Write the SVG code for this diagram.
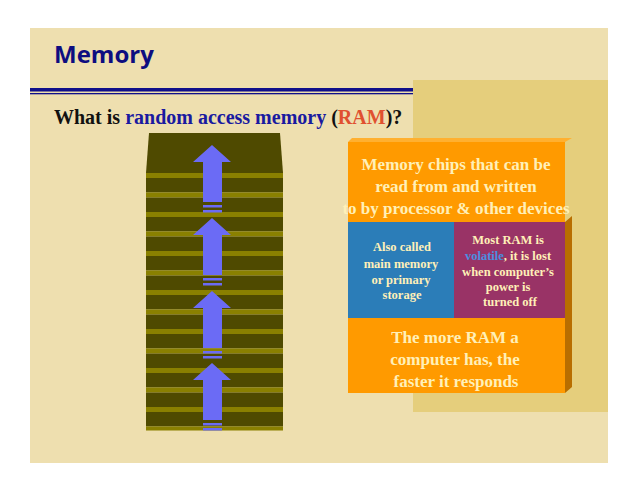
<svg xmlns="http://www.w3.org/2000/svg" width="638" height="493" viewBox="0 0 638 493">
<style>
.chip{fill:#4F4A00}.stripe{fill:#8A8000}.arr{fill:#6B6BF5}
.t{font-family:"Liberation Serif",serif;font-weight:bold;fill:#FFF0B8;text-anchor:middle}
</style>
<rect width="638" height="493" fill="#fff"/>
<rect x="30" y="28" width="578" height="435" fill="#EEDFAF"/>
<rect x="413" y="80" width="195" height="332" fill="#E5CE7C"/>
<text x="54" y="63" font-family="Open Sans,sans-serif" font-weight="bold" font-size="24" fill="#0D0D80">Memory</text>
<rect x="30" y="88" width="383" height="3.5" fill="#10108A"/>
<rect x="30" y="93" width="383" height="1.3" fill="#10108A"/>
<text x="54" y="124" font-family="Liberation Serif,serif" font-weight="bold" font-size="20" fill="#111">What is <tspan fill="#1A1AA0">random access memory</tspan> (<tspan fill="#E05030">RAM</tspan>)?</text>
<g id="stack">
<polygon class="chip" points="149,133 280,133 283,173 146,173"/>
<g id="chips">
<rect class="stripe" x="146" y="173" width="137" height="5"/>
<rect class="chip" x="146" y="178" width="137" height="14.5"/><rect class="stripe" x="146" y="192.5" width="137" height="5"/>
<rect class="chip" x="146" y="197.5" width="137" height="14.5"/><rect class="stripe" x="146" y="212" width="137" height="5"/>
<rect class="chip" x="146" y="217" width="137" height="14.5"/><rect class="stripe" x="146" y="231.5" width="137" height="5"/>
<rect class="chip" x="146" y="236.5" width="137" height="14.5"/><rect class="stripe" x="146" y="251" width="137" height="5"/>
<rect class="chip" x="146" y="256" width="137" height="14.5"/><rect class="stripe" x="146" y="270.5" width="137" height="5"/>
<rect class="chip" x="146" y="275.5" width="137" height="14.5"/><rect class="stripe" x="146" y="290" width="137" height="5"/>
<rect class="chip" x="146" y="295" width="137" height="14.5"/><rect class="stripe" x="146" y="309.5" width="137" height="5"/>
<rect class="chip" x="146" y="314.5" width="137" height="14.5"/><rect class="stripe" x="146" y="329" width="137" height="5"/>
<rect class="chip" x="146" y="334" width="137" height="14.5"/><rect class="stripe" x="146" y="348.5" width="137" height="5"/>
<rect class="chip" x="146" y="353.5" width="137" height="14.5"/><rect class="stripe" x="146" y="368" width="137" height="5"/>
<rect class="chip" x="146" y="373" width="137" height="14.5"/><rect class="stripe" x="146" y="387.5" width="137" height="5"/>
<rect class="chip" x="146" y="392.5" width="137" height="14.5"/><rect class="stripe" x="146" y="407" width="137" height="5"/>
<rect class="chip" x="146" y="412" width="137" height="14.5"/><rect class="stripe" x="146" y="426.5" width="137" height="4"/>
</g>
<g id="arrows">
<defs><g id="a"><polygon class="arr" points="212,0 231,17 222,17 222,57 203,57 203,17 193,17"/><rect class="arr" x="203" y="60" width="19" height="2.5"/><rect class="arr" x="203" y="65" width="19" height="2.5"/></g></defs>
<use href="#a" y="145"/><use href="#a" y="218"/><use href="#a" y="291"/><use href="#a" y="363"/>
</g>
</g>
<g id="box">
<polygon points="565,222 572,216 572,387 565,393" fill="#B86E00"/>
<polygon points="348,142 352,138 572,138 565,142" fill="#FFB030"/>
<rect x="348" y="142" width="217" height="80" fill="#FF9A00"/>
<rect x="348" y="222" width="106" height="96" fill="#2B7DB8"/>
<rect x="454" y="222" width="111" height="96" fill="#993366"/>
<rect x="348" y="318" width="217" height="75" fill="#FF9A00"/>
<text class="t" font-size="17"><tspan x="456" y="170">Memory chips that can be</tspan><tspan x="456" y="192">read from and written</tspan><tspan x="456" y="214">to by processor &amp; other devices</tspan></text>
<text class="t" font-size="12.5"><tspan x="402" y="251">Also called</tspan><tspan x="401" y="268">main memory</tspan><tspan x="401" y="284">or primary</tspan><tspan x="402" y="299">storage</tspan></text>
<text class="t" font-size="12.5"><tspan x="508" y="244">Most RAM is</tspan><tspan x="508" y="260"><tspan fill="#4A8FE0">volatile</tspan>, it is lost</tspan><tspan x="508" y="276">when computer’s</tspan><tspan x="508" y="291">power is</tspan><tspan x="510" y="306">turned off</tspan></text>
<text class="t" font-size="17"><tspan x="455" y="343">The more RAM a</tspan><tspan x="455" y="365">computer has, the</tspan><tspan x="456" y="387">faster it responds</tspan></text>
</g>
</svg>
